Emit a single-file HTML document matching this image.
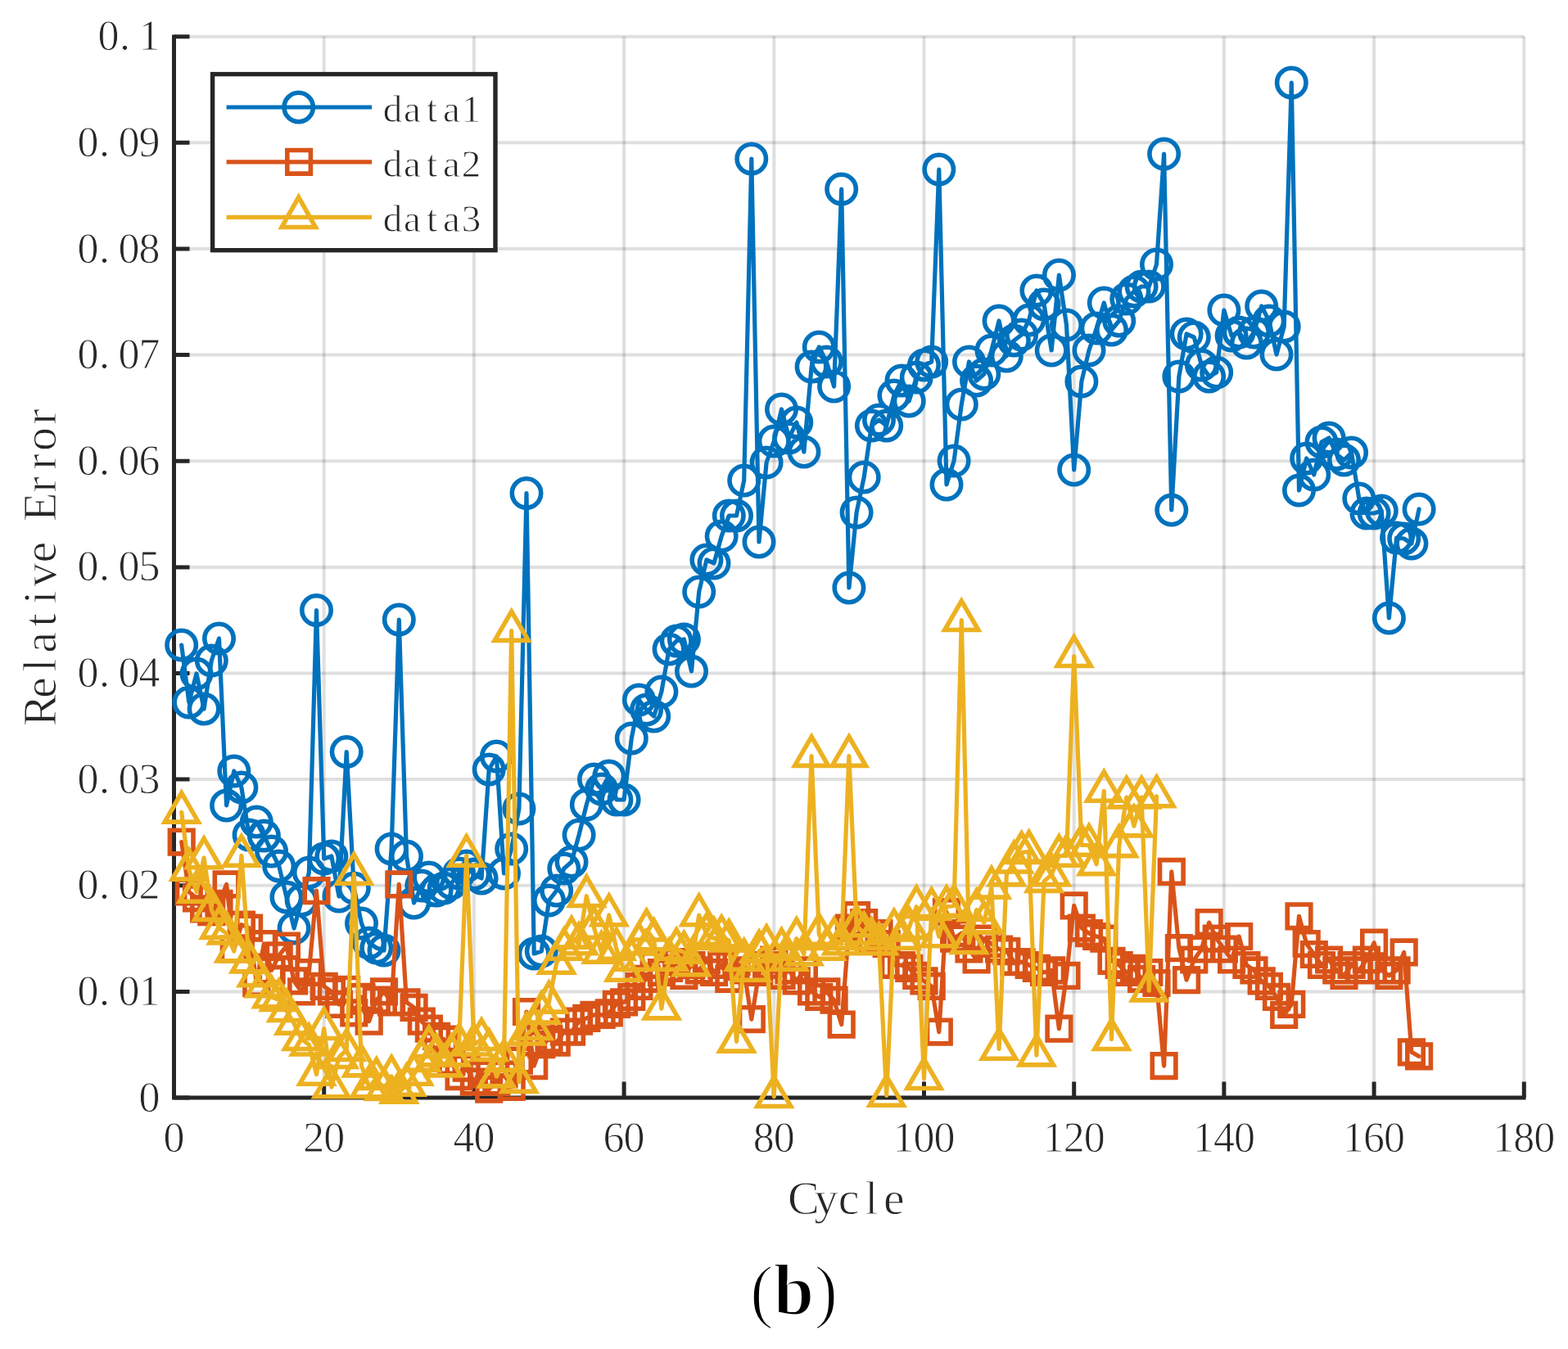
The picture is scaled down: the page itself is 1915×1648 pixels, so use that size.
<!DOCTYPE html><html><head><meta charset="utf-8"><title>Relative Error vs Cycle</title><style>
html,body{margin:0;padding:0;background:#fff;}body{width:1915px;height:1648px;overflow:hidden;}svg{display:block;filter:blur(0.55px);}
</style></head><body>
<svg width="1915" height="1648" viewBox="0 0 1915 1648">
<rect width="1915" height="1648" fill="#fff"/>
<path d="M395.7 44.6V1341M578.9 44.6V1341M762.1 44.6V1341M945.3 44.6V1341M1128.5 44.6V1341M1311.7 44.6V1341M1494.9 44.6V1341M1678.1 44.6V1341M1861.3 44.6V1341" stroke="#262626" stroke-opacity="0.15" stroke-width="4" fill="none"/>
<path d="M212.5 1211.4H1861.3M212.5 1081.7H1861.3M212.5 952.1H1861.3M212.5 822.5H1861.3M212.5 692.9H1861.3M212.5 563.2H1861.3M212.5 433.6H1861.3M212.5 304H1861.3M212.5 174.3H1861.3M212.5 44.7H1861.3" stroke="#262626" stroke-opacity="0.15" stroke-width="4" fill="none"/>
<path d="M212.5 42.4V1341H1863.5" stroke="#262626" stroke-width="5" fill="none" stroke-linejoin="miter" stroke-linecap="butt"/>
<path d="M212.5 1341H231.5M212.5 1211.4H231.5M212.5 1081.7H231.5M212.5 952.1H231.5M212.5 822.5H231.5M212.5 692.9H231.5M212.5 563.2H231.5M212.5 433.6H231.5M212.5 304H231.5M212.5 174.3H231.5M212.5 44.7H231.5M212.5 1341V1321.5M395.7 1341V1321.5M578.9 1341V1321.5M762.1 1341V1321.5M945.3 1341V1321.5M1128.5 1341V1321.5M1311.7 1341V1321.5M1494.9 1341V1321.5M1678.1 1341V1321.5M1861.3 1341V1321.5" stroke="#262626" stroke-width="5" fill="none"/>
<polyline points="221.7,788 230.8,858 240,823 249.1,866 258.3,807 267.5,780 276.6,984 285.8,942 294.9,962 304.1,1020 313.3,1004 322.4,1021 331.6,1040 340.7,1058 349.9,1096 359.1,1134 368.2,1100 377.4,1066 386.5,745.5 395.7,1049 404.9,1046 414,1095 423.2,918.5 432.3,1085 441.5,1128 450.7,1152 459.8,1158 469,1161 478.1,1037 487.3,757 496.5,1046 505.6,1103 514.8,1082 523.9,1072 533.1,1088 542.3,1085 551.4,1079 560.6,1067 569.7,1058 578.9,1068 588.1,1073 597.2,940 606.4,924 615.5,1067 624.7,1037 633.9,988 643,602.5 652.2,1165 661.3,1162 670.5,1100 679.7,1088 688.8,1061 698,1053 707.1,1020 716.3,983 725.5,952 734.6,964 743.8,948 752.9,977 762.1,977 771.3,902 780.4,855 789.6,867 798.7,875 807.9,845 817.1,793 826.2,783 835.4,781 844.5,820 853.7,723 862.9,684 872,688 881.2,655 890.3,630 899.5,630 908.7,587 917.8,194 927,662 936.1,565 945.3,539 954.5,500 963.6,535 972.8,516 981.9,552 991.1,448 1000.3,424 1009.4,442 1018.6,472 1027.7,231 1036.9,718 1046.1,626 1055.2,583 1064.4,520 1073.5,513 1082.7,520 1091.9,483 1101,465 1110.2,490 1119.3,461 1128.5,446 1137.7,442 1146.8,207 1156,592 1165.1,563 1174.3,494 1183.5,442 1192.6,465 1201.8,457 1210.9,428 1220.1,392 1229.3,435 1238.4,416 1247.6,409 1256.7,391 1265.9,355 1275.1,372 1284.2,428 1293.4,336 1302.5,397 1311.7,574 1320.9,466 1330,428 1339.2,401 1348.3,370 1357.5,403 1366.7,392 1375.8,365 1385,356 1394.1,350 1403.3,350 1412.5,323 1421.6,188 1430.8,623 1439.9,460 1449.1,408 1458.3,412 1467.4,446 1476.6,460 1485.7,455 1494.9,379 1504.1,410 1513.2,406 1522.4,419 1531.5,406 1540.7,374 1549.9,392 1559,433 1568.2,399 1577.3,101 1586.5,599 1595.7,560 1604.8,580 1614,540 1623.1,535 1632.3,555 1641.5,562 1650.6,553 1659.8,609 1668.9,627 1678.1,627 1687.3,624 1696.4,755 1705.6,657 1714.7,658 1723.9,664 1733.1,622" fill="none" stroke="#0072BD" stroke-width="5.2" stroke-linejoin="round" stroke-linecap="round"/>
<path d="M204 788a17.7 17.7 0 1 0 35.4 0a17.7 17.7 0 1 0 -35.4 0M213.1 858a17.7 17.7 0 1 0 35.4 0a17.7 17.7 0 1 0 -35.4 0M222.3 823a17.7 17.7 0 1 0 35.4 0a17.7 17.7 0 1 0 -35.4 0M231.4 866a17.7 17.7 0 1 0 35.4 0a17.7 17.7 0 1 0 -35.4 0M240.6 807a17.7 17.7 0 1 0 35.4 0a17.7 17.7 0 1 0 -35.4 0M249.8 780a17.7 17.7 0 1 0 35.4 0a17.7 17.7 0 1 0 -35.4 0M258.9 984a17.7 17.7 0 1 0 35.4 0a17.7 17.7 0 1 0 -35.4 0M268.1 942a17.7 17.7 0 1 0 35.4 0a17.7 17.7 0 1 0 -35.4 0M277.2 962a17.7 17.7 0 1 0 35.4 0a17.7 17.7 0 1 0 -35.4 0M286.4 1020a17.7 17.7 0 1 0 35.4 0a17.7 17.7 0 1 0 -35.4 0M295.6 1004a17.7 17.7 0 1 0 35.4 0a17.7 17.7 0 1 0 -35.4 0M304.7 1021a17.7 17.7 0 1 0 35.4 0a17.7 17.7 0 1 0 -35.4 0M313.9 1040a17.7 17.7 0 1 0 35.4 0a17.7 17.7 0 1 0 -35.4 0M323 1058a17.7 17.7 0 1 0 35.4 0a17.7 17.7 0 1 0 -35.4 0M332.2 1096a17.7 17.7 0 1 0 35.4 0a17.7 17.7 0 1 0 -35.4 0M341.4 1134a17.7 17.7 0 1 0 35.4 0a17.7 17.7 0 1 0 -35.4 0M350.5 1100a17.7 17.7 0 1 0 35.4 0a17.7 17.7 0 1 0 -35.4 0M359.7 1066a17.7 17.7 0 1 0 35.4 0a17.7 17.7 0 1 0 -35.4 0M368.8 745.5a17.7 17.7 0 1 0 35.4 0a17.7 17.7 0 1 0 -35.4 0M378 1049a17.7 17.7 0 1 0 35.4 0a17.7 17.7 0 1 0 -35.4 0M387.2 1046a17.7 17.7 0 1 0 35.4 0a17.7 17.7 0 1 0 -35.4 0M396.3 1095a17.7 17.7 0 1 0 35.4 0a17.7 17.7 0 1 0 -35.4 0M405.5 918.5a17.7 17.7 0 1 0 35.4 0a17.7 17.7 0 1 0 -35.4 0M414.6 1085a17.7 17.7 0 1 0 35.4 0a17.7 17.7 0 1 0 -35.4 0M423.8 1128a17.7 17.7 0 1 0 35.4 0a17.7 17.7 0 1 0 -35.4 0M433 1152a17.7 17.7 0 1 0 35.4 0a17.7 17.7 0 1 0 -35.4 0M442.1 1158a17.7 17.7 0 1 0 35.4 0a17.7 17.7 0 1 0 -35.4 0M451.3 1161a17.7 17.7 0 1 0 35.4 0a17.7 17.7 0 1 0 -35.4 0M460.4 1037a17.7 17.7 0 1 0 35.4 0a17.7 17.7 0 1 0 -35.4 0M469.6 757a17.7 17.7 0 1 0 35.4 0a17.7 17.7 0 1 0 -35.4 0M478.8 1046a17.7 17.7 0 1 0 35.4 0a17.7 17.7 0 1 0 -35.4 0M487.9 1103a17.7 17.7 0 1 0 35.4 0a17.7 17.7 0 1 0 -35.4 0M497.1 1082a17.7 17.7 0 1 0 35.4 0a17.7 17.7 0 1 0 -35.4 0M506.2 1072a17.7 17.7 0 1 0 35.4 0a17.7 17.7 0 1 0 -35.4 0M515.4 1088a17.7 17.7 0 1 0 35.4 0a17.7 17.7 0 1 0 -35.4 0M524.6 1085a17.7 17.7 0 1 0 35.4 0a17.7 17.7 0 1 0 -35.4 0M533.7 1079a17.7 17.7 0 1 0 35.4 0a17.7 17.7 0 1 0 -35.4 0M542.9 1067a17.7 17.7 0 1 0 35.4 0a17.7 17.7 0 1 0 -35.4 0M552 1058a17.7 17.7 0 1 0 35.4 0a17.7 17.7 0 1 0 -35.4 0M561.2 1068a17.7 17.7 0 1 0 35.4 0a17.7 17.7 0 1 0 -35.4 0M570.4 1073a17.7 17.7 0 1 0 35.4 0a17.7 17.7 0 1 0 -35.4 0M579.5 940a17.7 17.7 0 1 0 35.4 0a17.7 17.7 0 1 0 -35.4 0M588.7 924a17.7 17.7 0 1 0 35.4 0a17.7 17.7 0 1 0 -35.4 0M597.8 1067a17.7 17.7 0 1 0 35.4 0a17.7 17.7 0 1 0 -35.4 0M607 1037a17.7 17.7 0 1 0 35.4 0a17.7 17.7 0 1 0 -35.4 0M616.2 988a17.7 17.7 0 1 0 35.4 0a17.7 17.7 0 1 0 -35.4 0M625.3 602.5a17.7 17.7 0 1 0 35.4 0a17.7 17.7 0 1 0 -35.4 0M634.5 1165a17.7 17.7 0 1 0 35.4 0a17.7 17.7 0 1 0 -35.4 0M643.6 1162a17.7 17.7 0 1 0 35.4 0a17.7 17.7 0 1 0 -35.4 0M652.8 1100a17.7 17.7 0 1 0 35.4 0a17.7 17.7 0 1 0 -35.4 0M662 1088a17.7 17.7 0 1 0 35.4 0a17.7 17.7 0 1 0 -35.4 0M671.1 1061a17.7 17.7 0 1 0 35.4 0a17.7 17.7 0 1 0 -35.4 0M680.3 1053a17.7 17.7 0 1 0 35.4 0a17.7 17.7 0 1 0 -35.4 0M689.4 1020a17.7 17.7 0 1 0 35.4 0a17.7 17.7 0 1 0 -35.4 0M698.6 983a17.7 17.7 0 1 0 35.4 0a17.7 17.7 0 1 0 -35.4 0M707.8 952a17.7 17.7 0 1 0 35.4 0a17.7 17.7 0 1 0 -35.4 0M716.9 964a17.7 17.7 0 1 0 35.4 0a17.7 17.7 0 1 0 -35.4 0M726.1 948a17.7 17.7 0 1 0 35.4 0a17.7 17.7 0 1 0 -35.4 0M735.2 977a17.7 17.7 0 1 0 35.4 0a17.7 17.7 0 1 0 -35.4 0M744.4 977a17.7 17.7 0 1 0 35.4 0a17.7 17.7 0 1 0 -35.4 0M753.6 902a17.7 17.7 0 1 0 35.4 0a17.7 17.7 0 1 0 -35.4 0M762.7 855a17.7 17.7 0 1 0 35.4 0a17.7 17.7 0 1 0 -35.4 0M771.9 867a17.7 17.7 0 1 0 35.4 0a17.7 17.7 0 1 0 -35.4 0M781 875a17.7 17.7 0 1 0 35.4 0a17.7 17.7 0 1 0 -35.4 0M790.2 845a17.7 17.7 0 1 0 35.4 0a17.7 17.7 0 1 0 -35.4 0M799.4 793a17.7 17.7 0 1 0 35.4 0a17.7 17.7 0 1 0 -35.4 0M808.5 783a17.7 17.7 0 1 0 35.4 0a17.7 17.7 0 1 0 -35.4 0M817.7 781a17.7 17.7 0 1 0 35.4 0a17.7 17.7 0 1 0 -35.4 0M826.8 820a17.7 17.7 0 1 0 35.4 0a17.7 17.7 0 1 0 -35.4 0M836 723a17.7 17.7 0 1 0 35.4 0a17.7 17.7 0 1 0 -35.4 0M845.2 684a17.7 17.7 0 1 0 35.4 0a17.7 17.7 0 1 0 -35.4 0M854.3 688a17.7 17.7 0 1 0 35.4 0a17.7 17.7 0 1 0 -35.4 0M863.5 655a17.7 17.7 0 1 0 35.4 0a17.7 17.7 0 1 0 -35.4 0M872.6 630a17.7 17.7 0 1 0 35.4 0a17.7 17.7 0 1 0 -35.4 0M881.8 630a17.7 17.7 0 1 0 35.4 0a17.7 17.7 0 1 0 -35.4 0M891 587a17.7 17.7 0 1 0 35.4 0a17.7 17.7 0 1 0 -35.4 0M900.1 194a17.7 17.7 0 1 0 35.4 0a17.7 17.7 0 1 0 -35.4 0M909.3 662a17.7 17.7 0 1 0 35.4 0a17.7 17.7 0 1 0 -35.4 0M918.4 565a17.7 17.7 0 1 0 35.4 0a17.7 17.7 0 1 0 -35.4 0M927.6 539a17.7 17.7 0 1 0 35.4 0a17.7 17.7 0 1 0 -35.4 0M936.8 500a17.7 17.7 0 1 0 35.4 0a17.7 17.7 0 1 0 -35.4 0M945.9 535a17.7 17.7 0 1 0 35.4 0a17.7 17.7 0 1 0 -35.4 0M955.1 516a17.7 17.7 0 1 0 35.4 0a17.7 17.7 0 1 0 -35.4 0M964.2 552a17.7 17.7 0 1 0 35.4 0a17.7 17.7 0 1 0 -35.4 0M973.4 448a17.7 17.7 0 1 0 35.4 0a17.7 17.7 0 1 0 -35.4 0M982.6 424a17.7 17.7 0 1 0 35.4 0a17.7 17.7 0 1 0 -35.4 0M991.7 442a17.7 17.7 0 1 0 35.4 0a17.7 17.7 0 1 0 -35.4 0M1000.9 472a17.7 17.7 0 1 0 35.4 0a17.7 17.7 0 1 0 -35.4 0M1010 231a17.7 17.7 0 1 0 35.4 0a17.7 17.7 0 1 0 -35.4 0M1019.2 718a17.7 17.7 0 1 0 35.4 0a17.7 17.7 0 1 0 -35.4 0M1028.4 626a17.7 17.7 0 1 0 35.4 0a17.7 17.7 0 1 0 -35.4 0M1037.5 583a17.7 17.7 0 1 0 35.4 0a17.7 17.7 0 1 0 -35.4 0M1046.7 520a17.7 17.7 0 1 0 35.4 0a17.7 17.7 0 1 0 -35.4 0M1055.8 513a17.7 17.7 0 1 0 35.4 0a17.7 17.7 0 1 0 -35.4 0M1065 520a17.7 17.7 0 1 0 35.4 0a17.7 17.7 0 1 0 -35.4 0M1074.2 483a17.7 17.7 0 1 0 35.4 0a17.7 17.7 0 1 0 -35.4 0M1083.3 465a17.7 17.7 0 1 0 35.4 0a17.7 17.7 0 1 0 -35.4 0M1092.5 490a17.7 17.7 0 1 0 35.4 0a17.7 17.7 0 1 0 -35.4 0M1101.6 461a17.7 17.7 0 1 0 35.4 0a17.7 17.7 0 1 0 -35.4 0M1110.8 446a17.7 17.7 0 1 0 35.4 0a17.7 17.7 0 1 0 -35.4 0M1120 442a17.7 17.7 0 1 0 35.4 0a17.7 17.7 0 1 0 -35.4 0M1129.1 207a17.7 17.7 0 1 0 35.4 0a17.7 17.7 0 1 0 -35.4 0M1138.3 592a17.7 17.7 0 1 0 35.4 0a17.7 17.7 0 1 0 -35.4 0M1147.4 563a17.7 17.7 0 1 0 35.4 0a17.7 17.7 0 1 0 -35.4 0M1156.6 494a17.7 17.7 0 1 0 35.4 0a17.7 17.7 0 1 0 -35.4 0M1165.8 442a17.7 17.7 0 1 0 35.4 0a17.7 17.7 0 1 0 -35.4 0M1174.9 465a17.7 17.7 0 1 0 35.4 0a17.7 17.7 0 1 0 -35.4 0M1184.1 457a17.7 17.7 0 1 0 35.4 0a17.7 17.7 0 1 0 -35.4 0M1193.2 428a17.7 17.7 0 1 0 35.4 0a17.7 17.7 0 1 0 -35.4 0M1202.4 392a17.7 17.7 0 1 0 35.4 0a17.7 17.7 0 1 0 -35.4 0M1211.6 435a17.7 17.7 0 1 0 35.4 0a17.7 17.7 0 1 0 -35.4 0M1220.7 416a17.7 17.7 0 1 0 35.4 0a17.7 17.7 0 1 0 -35.4 0M1229.9 409a17.7 17.7 0 1 0 35.4 0a17.7 17.7 0 1 0 -35.4 0M1239 391a17.7 17.7 0 1 0 35.4 0a17.7 17.7 0 1 0 -35.4 0M1248.2 355a17.7 17.7 0 1 0 35.4 0a17.7 17.7 0 1 0 -35.4 0M1257.4 372a17.7 17.7 0 1 0 35.4 0a17.7 17.7 0 1 0 -35.4 0M1266.5 428a17.7 17.7 0 1 0 35.4 0a17.7 17.7 0 1 0 -35.4 0M1275.7 336a17.7 17.7 0 1 0 35.4 0a17.7 17.7 0 1 0 -35.4 0M1284.8 397a17.7 17.7 0 1 0 35.4 0a17.7 17.7 0 1 0 -35.4 0M1294 574a17.7 17.7 0 1 0 35.4 0a17.7 17.7 0 1 0 -35.4 0M1303.2 466a17.7 17.7 0 1 0 35.4 0a17.7 17.7 0 1 0 -35.4 0M1312.3 428a17.7 17.7 0 1 0 35.4 0a17.7 17.7 0 1 0 -35.4 0M1321.5 401a17.7 17.7 0 1 0 35.4 0a17.7 17.7 0 1 0 -35.4 0M1330.6 370a17.7 17.7 0 1 0 35.4 0a17.7 17.7 0 1 0 -35.4 0M1339.8 403a17.7 17.7 0 1 0 35.4 0a17.7 17.7 0 1 0 -35.4 0M1349 392a17.7 17.7 0 1 0 35.4 0a17.7 17.7 0 1 0 -35.4 0M1358.1 365a17.7 17.7 0 1 0 35.4 0a17.7 17.7 0 1 0 -35.4 0M1367.3 356a17.7 17.7 0 1 0 35.4 0a17.7 17.7 0 1 0 -35.4 0M1376.4 350a17.7 17.7 0 1 0 35.4 0a17.7 17.7 0 1 0 -35.4 0M1385.6 350a17.7 17.7 0 1 0 35.4 0a17.7 17.7 0 1 0 -35.4 0M1394.8 323a17.7 17.7 0 1 0 35.4 0a17.7 17.7 0 1 0 -35.4 0M1403.9 188a17.7 17.7 0 1 0 35.4 0a17.7 17.7 0 1 0 -35.4 0M1413.1 623a17.7 17.7 0 1 0 35.4 0a17.7 17.7 0 1 0 -35.4 0M1422.2 460a17.7 17.7 0 1 0 35.4 0a17.7 17.7 0 1 0 -35.4 0M1431.4 408a17.7 17.7 0 1 0 35.4 0a17.7 17.7 0 1 0 -35.4 0M1440.6 412a17.7 17.7 0 1 0 35.4 0a17.7 17.7 0 1 0 -35.4 0M1449.7 446a17.7 17.7 0 1 0 35.4 0a17.7 17.7 0 1 0 -35.4 0M1458.9 460a17.7 17.7 0 1 0 35.4 0a17.7 17.7 0 1 0 -35.4 0M1468 455a17.7 17.7 0 1 0 35.4 0a17.7 17.7 0 1 0 -35.4 0M1477.2 379a17.7 17.7 0 1 0 35.4 0a17.7 17.7 0 1 0 -35.4 0M1486.4 410a17.7 17.7 0 1 0 35.4 0a17.7 17.7 0 1 0 -35.4 0M1495.5 406a17.7 17.7 0 1 0 35.4 0a17.7 17.7 0 1 0 -35.4 0M1504.7 419a17.7 17.7 0 1 0 35.4 0a17.7 17.7 0 1 0 -35.4 0M1513.8 406a17.7 17.7 0 1 0 35.4 0a17.7 17.7 0 1 0 -35.4 0M1523 374a17.7 17.7 0 1 0 35.4 0a17.7 17.7 0 1 0 -35.4 0M1532.2 392a17.7 17.7 0 1 0 35.4 0a17.7 17.7 0 1 0 -35.4 0M1541.3 433a17.7 17.7 0 1 0 35.4 0a17.7 17.7 0 1 0 -35.4 0M1550.5 399a17.7 17.7 0 1 0 35.4 0a17.7 17.7 0 1 0 -35.4 0M1559.6 101a17.7 17.7 0 1 0 35.4 0a17.7 17.7 0 1 0 -35.4 0M1568.8 599a17.7 17.7 0 1 0 35.4 0a17.7 17.7 0 1 0 -35.4 0M1578 560a17.7 17.7 0 1 0 35.4 0a17.7 17.7 0 1 0 -35.4 0M1587.1 580a17.7 17.7 0 1 0 35.4 0a17.7 17.7 0 1 0 -35.4 0M1596.3 540a17.7 17.7 0 1 0 35.4 0a17.7 17.7 0 1 0 -35.4 0M1605.4 535a17.7 17.7 0 1 0 35.4 0a17.7 17.7 0 1 0 -35.4 0M1614.6 555a17.7 17.7 0 1 0 35.4 0a17.7 17.7 0 1 0 -35.4 0M1623.8 562a17.7 17.7 0 1 0 35.4 0a17.7 17.7 0 1 0 -35.4 0M1632.9 553a17.7 17.7 0 1 0 35.4 0a17.7 17.7 0 1 0 -35.4 0M1642.1 609a17.7 17.7 0 1 0 35.4 0a17.7 17.7 0 1 0 -35.4 0M1651.2 627a17.7 17.7 0 1 0 35.4 0a17.7 17.7 0 1 0 -35.4 0M1660.4 627a17.7 17.7 0 1 0 35.4 0a17.7 17.7 0 1 0 -35.4 0M1669.6 624a17.7 17.7 0 1 0 35.4 0a17.7 17.7 0 1 0 -35.4 0M1678.7 755a17.7 17.7 0 1 0 35.4 0a17.7 17.7 0 1 0 -35.4 0M1687.9 657a17.7 17.7 0 1 0 35.4 0a17.7 17.7 0 1 0 -35.4 0M1697 658a17.7 17.7 0 1 0 35.4 0a17.7 17.7 0 1 0 -35.4 0M1706.2 664a17.7 17.7 0 1 0 35.4 0a17.7 17.7 0 1 0 -35.4 0M1715.4 622a17.7 17.7 0 1 0 35.4 0a17.7 17.7 0 1 0 -35.4 0" fill="none" stroke="#0072BD" stroke-width="5.6"/>
<polyline points="221.7,1028.6 230.8,1089.5 240,1097.3 249.1,1110.3 258.3,1114.1 267.5,1103.8 276.6,1080.4 285.8,1159.5 294.9,1129.7 304.1,1133.6 313.3,1201 322.4,1153 331.6,1185.4 340.7,1167.3 349.9,1155.6 359.1,1198.4 368.2,1211.4 377.4,1188 386.5,1088.2 395.7,1204.9 404.9,1211.4 414,1226.9 423.2,1208.8 432.3,1237.3 441.5,1217.9 450.7,1247.7 459.8,1221.7 469,1211.4 478.1,1224.3 487.3,1080.4 496.5,1224.3 505.6,1230.8 514.8,1247.7 523.9,1256.7 533.1,1265.8 542.3,1269.7 551.4,1296.9 560.6,1315.1 569.7,1304.7 578.9,1321.6 588.1,1312.5 597.2,1330.6 606.4,1321.6 615.5,1312.5 624.7,1328 633.9,1295.6 643,1236 652.2,1302.1 661.3,1276.2 670.5,1269.7 679.7,1273.6 688.8,1260.6 698,1260.6 707.1,1247.7 716.3,1243.8 725.5,1239.9 734.6,1239.9 743.8,1237.3 752.9,1226.9 762.1,1224.3 771.3,1217.9 780.4,1204.9 789.6,1195.8 798.7,1179 807.9,1188 817.1,1182.9 826.2,1175.1 835.4,1191.9 844.5,1179 853.7,1185.4 862.9,1172.5 872,1188 881.2,1179 890.3,1195.8 899.5,1175.1 908.7,1185.4 917.8,1245.1 927,1188 936.1,1179 945.3,1172.5 954.5,1191.9 963.6,1185.4 972.8,1198.4 981.9,1185.4 991.1,1211.4 1000.3,1217.9 1009.4,1211.4 1018.6,1221.7 1027.7,1251.6 1036.9,1133.6 1046.1,1118 1055.2,1127.1 1064.4,1146.6 1073.5,1140.1 1082.7,1153 1091.9,1179 1101,1179 1110.2,1182.9 1119.3,1191.9 1128.5,1198.4 1137.7,1204.9 1146.8,1260.6 1156,1114.1 1165.1,1146.6 1174.3,1140.1 1183.5,1159.5 1192.6,1172.5 1201.8,1146.6 1210.9,1153 1220.1,1159.5 1229.3,1162.1 1238.4,1175.1 1247.6,1175.1 1256.7,1179 1265.9,1182.9 1275.1,1188 1284.2,1185.4 1293.4,1256.7 1302.5,1191.9 1311.7,1106.4 1320.9,1133.6 1330,1140.1 1339.2,1144 1348.3,1146.6 1357.5,1173.8 1366.7,1179 1375.8,1188 1385,1182.9 1394.1,1195.8 1403.3,1188 1412.5,1201 1421.6,1302.1 1430.8,1064.9 1439.9,1158.2 1449.1,1197.1 1458.3,1172.5 1467.4,1159.5 1476.6,1127.1 1485.7,1146.6 1494.9,1159.5 1504.1,1172.5 1513.2,1144 1522.4,1179 1531.5,1185.4 1540.7,1198.4 1549.9,1204.9 1559,1217.9 1568.2,1239.9 1577.3,1226.9 1586.5,1119.3 1595.7,1153 1604.8,1166 1614,1179 1623.1,1172.5 1632.3,1185.4 1641.5,1191.9 1650.6,1179 1659.8,1185.4 1668.9,1172.5 1678.1,1151.7 1687.3,1185.4 1696.4,1191.9 1705.6,1185.4 1714.7,1163.4 1723.9,1285.3 1733.1,1290.4" fill="none" stroke="#D95319" stroke-width="5.2" stroke-linejoin="round" stroke-linecap="round"/>
<path d="M207.4 1014.3h28.6v28.6h-28.6zM216.5 1075.2h28.6v28.6h-28.6zM225.7 1083h28.6v28.6h-28.6zM234.8 1096h28.6v28.6h-28.6zM244 1099.8h28.6v28.6h-28.6zM253.2 1089.5h28.6v28.6h-28.6zM262.3 1066.1h28.6v28.6h-28.6zM271.5 1145.2h28.6v28.6h-28.6zM280.6 1115.4h28.6v28.6h-28.6zM289.8 1119.3h28.6v28.6h-28.6zM299 1186.7h28.6v28.6h-28.6zM308.1 1138.7h28.6v28.6h-28.6zM317.3 1171.1h28.6v28.6h-28.6zM326.4 1153h28.6v28.6h-28.6zM335.6 1141.3h28.6v28.6h-28.6zM344.8 1184.1h28.6v28.6h-28.6zM353.9 1197.1h28.6v28.6h-28.6zM363.1 1173.7h28.6v28.6h-28.6zM372.2 1073.9h28.6v28.6h-28.6zM381.4 1190.6h28.6v28.6h-28.6zM390.6 1197.1h28.6v28.6h-28.6zM399.7 1212.6h28.6v28.6h-28.6zM408.9 1194.5h28.6v28.6h-28.6zM418 1223h28.6v28.6h-28.6zM427.2 1203.6h28.6v28.6h-28.6zM436.4 1233.4h28.6v28.6h-28.6zM445.5 1207.4h28.6v28.6h-28.6zM454.7 1197.1h28.6v28.6h-28.6zM463.8 1210h28.6v28.6h-28.6zM473 1066.1h28.6v28.6h-28.6zM482.2 1210h28.6v28.6h-28.6zM491.3 1216.5h28.6v28.6h-28.6zM500.5 1233.4h28.6v28.6h-28.6zM509.6 1242.4h28.6v28.6h-28.6zM518.8 1251.5h28.6v28.6h-28.6zM528 1255.4h28.6v28.6h-28.6zM537.1 1282.6h28.6v28.6h-28.6zM546.3 1300.8h28.6v28.6h-28.6zM555.4 1290.4h28.6v28.6h-28.6zM564.6 1307.3h28.6v28.6h-28.6zM573.8 1298.2h28.6v28.6h-28.6zM582.9 1316.3h28.6v28.6h-28.6zM592.1 1307.3h28.6v28.6h-28.6zM601.2 1298.2h28.6v28.6h-28.6zM610.4 1313.7h28.6v28.6h-28.6zM619.6 1281.3h28.6v28.6h-28.6zM628.7 1221.7h28.6v28.6h-28.6zM637.9 1287.8h28.6v28.6h-28.6zM647 1261.9h28.6v28.6h-28.6zM656.2 1255.4h28.6v28.6h-28.6zM665.4 1259.3h28.6v28.6h-28.6zM674.5 1246.3h28.6v28.6h-28.6zM683.7 1246.3h28.6v28.6h-28.6zM692.8 1233.4h28.6v28.6h-28.6zM702 1229.5h28.6v28.6h-28.6zM711.2 1225.6h28.6v28.6h-28.6zM720.3 1225.6h28.6v28.6h-28.6zM729.5 1223h28.6v28.6h-28.6zM738.6 1212.6h28.6v28.6h-28.6zM747.8 1210h28.6v28.6h-28.6zM757 1203.6h28.6v28.6h-28.6zM766.1 1190.6h28.6v28.6h-28.6zM775.3 1181.5h28.6v28.6h-28.6zM784.4 1164.7h28.6v28.6h-28.6zM793.6 1173.7h28.6v28.6h-28.6zM802.8 1168.6h28.6v28.6h-28.6zM811.9 1160.8h28.6v28.6h-28.6zM821.1 1177.6h28.6v28.6h-28.6zM830.2 1164.7h28.6v28.6h-28.6zM839.4 1171.1h28.6v28.6h-28.6zM848.6 1158.2h28.6v28.6h-28.6zM857.7 1173.7h28.6v28.6h-28.6zM866.9 1164.7h28.6v28.6h-28.6zM876 1181.5h28.6v28.6h-28.6zM885.2 1160.8h28.6v28.6h-28.6zM894.4 1171.1h28.6v28.6h-28.6zM903.5 1230.8h28.6v28.6h-28.6zM912.7 1173.7h28.6v28.6h-28.6zM921.8 1164.7h28.6v28.6h-28.6zM931 1158.2h28.6v28.6h-28.6zM940.2 1177.6h28.6v28.6h-28.6zM949.3 1171.1h28.6v28.6h-28.6zM958.5 1184.1h28.6v28.6h-28.6zM967.6 1171.1h28.6v28.6h-28.6zM976.8 1197.1h28.6v28.6h-28.6zM986 1203.6h28.6v28.6h-28.6zM995.1 1197.1h28.6v28.6h-28.6zM1004.3 1207.4h28.6v28.6h-28.6zM1013.4 1237.3h28.6v28.6h-28.6zM1022.6 1119.3h28.6v28.6h-28.6zM1031.8 1103.7h28.6v28.6h-28.6zM1040.9 1112.8h28.6v28.6h-28.6zM1050.1 1132.3h28.6v28.6h-28.6zM1059.2 1125.8h28.6v28.6h-28.6zM1068.4 1138.7h28.6v28.6h-28.6zM1077.6 1164.7h28.6v28.6h-28.6zM1086.7 1164.7h28.6v28.6h-28.6zM1095.9 1168.6h28.6v28.6h-28.6zM1105 1177.6h28.6v28.6h-28.6zM1114.2 1184.1h28.6v28.6h-28.6zM1123.4 1190.6h28.6v28.6h-28.6zM1132.5 1246.3h28.6v28.6h-28.6zM1141.7 1099.8h28.6v28.6h-28.6zM1150.8 1132.3h28.6v28.6h-28.6zM1160 1125.8h28.6v28.6h-28.6zM1169.2 1145.2h28.6v28.6h-28.6zM1178.3 1158.2h28.6v28.6h-28.6zM1187.5 1132.3h28.6v28.6h-28.6zM1196.6 1138.7h28.6v28.6h-28.6zM1205.8 1145.2h28.6v28.6h-28.6zM1215 1147.8h28.6v28.6h-28.6zM1224.1 1160.8h28.6v28.6h-28.6zM1233.3 1160.8h28.6v28.6h-28.6zM1242.4 1164.7h28.6v28.6h-28.6zM1251.6 1168.6h28.6v28.6h-28.6zM1260.8 1173.7h28.6v28.6h-28.6zM1269.9 1171.1h28.6v28.6h-28.6zM1279.1 1242.4h28.6v28.6h-28.6zM1288.2 1177.6h28.6v28.6h-28.6zM1297.4 1092.1h28.6v28.6h-28.6zM1306.6 1119.3h28.6v28.6h-28.6zM1315.7 1125.8h28.6v28.6h-28.6zM1324.9 1129.7h28.6v28.6h-28.6zM1334 1132.3h28.6v28.6h-28.6zM1343.2 1159.5h28.6v28.6h-28.6zM1352.4 1164.7h28.6v28.6h-28.6zM1361.5 1173.7h28.6v28.6h-28.6zM1370.7 1168.6h28.6v28.6h-28.6zM1379.8 1181.5h28.6v28.6h-28.6zM1389 1173.7h28.6v28.6h-28.6zM1398.2 1186.7h28.6v28.6h-28.6zM1407.3 1287.8h28.6v28.6h-28.6zM1416.5 1050.6h28.6v28.6h-28.6zM1425.6 1143.9h28.6v28.6h-28.6zM1434.8 1182.8h28.6v28.6h-28.6zM1444 1158.2h28.6v28.6h-28.6zM1453.1 1145.2h28.6v28.6h-28.6zM1462.3 1112.8h28.6v28.6h-28.6zM1471.4 1132.3h28.6v28.6h-28.6zM1480.6 1145.2h28.6v28.6h-28.6zM1489.8 1158.2h28.6v28.6h-28.6zM1498.9 1129.7h28.6v28.6h-28.6zM1508.1 1164.7h28.6v28.6h-28.6zM1517.2 1171.1h28.6v28.6h-28.6zM1526.4 1184.1h28.6v28.6h-28.6zM1535.6 1190.6h28.6v28.6h-28.6zM1544.7 1203.6h28.6v28.6h-28.6zM1553.9 1225.6h28.6v28.6h-28.6zM1563 1212.6h28.6v28.6h-28.6zM1572.2 1105h28.6v28.6h-28.6zM1581.4 1138.7h28.6v28.6h-28.6zM1590.5 1151.7h28.6v28.6h-28.6zM1599.7 1164.7h28.6v28.6h-28.6zM1608.8 1158.2h28.6v28.6h-28.6zM1618 1171.1h28.6v28.6h-28.6zM1627.2 1177.6h28.6v28.6h-28.6zM1636.3 1164.7h28.6v28.6h-28.6zM1645.5 1171.1h28.6v28.6h-28.6zM1654.6 1158.2h28.6v28.6h-28.6zM1663.8 1137.4h28.6v28.6h-28.6zM1673 1171.1h28.6v28.6h-28.6zM1682.1 1177.6h28.6v28.6h-28.6zM1691.3 1171.1h28.6v28.6h-28.6zM1700.4 1149.1h28.6v28.6h-28.6zM1709.6 1271h28.6v28.6h-28.6zM1718.8 1276.1h28.6v28.6h-28.6z" fill="none" stroke="#D95319" stroke-width="5.6" stroke-linejoin="miter"/>
<polyline points="221.7,992.3 230.8,1062.3 240,1089.5 249.1,1048 258.3,1111.6 267.5,1133.6 276.6,1140.1 285.8,1162.1 294.9,1045.4 304.1,1175.1 313.3,1191.9 322.4,1204.9 331.6,1217.9 340.7,1221.7 349.9,1234.7 359.1,1250.3 368.2,1269.7 377.4,1276.2 386.5,1312.5 395.7,1256.7 404.9,1328 414,1291.7 423.2,1282.7 432.3,1067.5 441.5,1302.1 450.7,1328 459.8,1317.7 469,1330.6 478.1,1315.1 487.3,1334.5 496.5,1325.4 505.6,1312.5 514.8,1295.6 523.9,1278.8 533.1,1289.1 542.3,1302.1 551.4,1289.1 560.6,1276.2 569.7,1045.4 578.9,1276.2 588.1,1269.7 597.2,1282.7 606.4,1315.1 615.5,1295.6 624.7,770.6 633.9,1321.6 643,1263.2 652.2,1256.7 661.3,1237.3 670.5,1224.3 679.7,1176.4 688.8,1159.5 698,1145.3 707.1,1153 716.3,1094.7 725.5,1133.6 734.6,1163.4 743.8,1118 752.9,1159.5 762.1,1185.4 771.3,1172.5 780.4,1153 789.6,1136.2 798.7,1147.9 807.9,1232.1 817.1,1172.5 826.2,1159.5 835.4,1163.4 844.5,1179 853.7,1118 862.9,1141.4 872,1146.6 881.2,1144 890.3,1149.1 899.5,1272.3 908.7,1172.5 917.8,1185.4 927,1162.1 936.1,1155.6 945.3,1339.7 954.5,1159.5 963.6,1172.5 972.8,1146.6 981.9,1166 991.1,923.6 1000.3,1141.4 1009.4,1159.5 1018.6,1146.6 1027.7,1153 1036.9,923.6 1046.1,1131 1055.2,1140.1 1064.4,1146.6 1073.5,1153 1082.7,1338.4 1091.9,1136.2 1101,1146.6 1110.2,1133.6 1119.3,1107.7 1128.5,1317.7 1137.7,1110.3 1146.8,1144 1156,1107.7 1165.1,1106.4 1174.3,757.7 1183.5,1151.7 1192.6,1111.6 1201.8,1127.1 1210.9,1084.3 1220.1,1281.4 1229.3,1068.8 1238.4,1053.2 1247.6,1041.6 1256.7,1040.3 1265.9,1289.1 1275.1,1076.6 1284.2,1068.8 1293.4,1045.4 1302.5,1045.4 1311.7,801.7 1320.9,1032.5 1330,1032.5 1339.2,1055.8 1348.3,966.4 1357.5,1269.7 1366.7,1033.8 1375.8,974.1 1385,1009.1 1394.1,974.1 1403.3,1210.1 1412.5,972.9" fill="none" stroke="#EDB120" stroke-width="5.2" stroke-linejoin="round" stroke-linecap="round"/>
<path d="M221.7 968.7L242.2 1004.1L201.2 1004.1zM230.8 1038.7L251.3 1074.1L210.3 1074.1zM240 1065.9L260.5 1101.3L219.5 1101.3zM249.1 1024.4L269.6 1059.8L228.6 1059.8zM258.3 1088L278.8 1123.4L237.8 1123.4zM267.5 1110L288 1145.4L247 1145.4zM276.6 1116.5L297.1 1151.9L256.1 1151.9zM285.8 1138.5L306.3 1173.9L265.3 1173.9zM294.9 1021.8L315.4 1057.2L274.4 1057.2zM304.1 1151.5L324.6 1186.9L283.6 1186.9zM313.3 1168.3L333.8 1203.7L292.8 1203.7zM322.4 1181.3L342.9 1216.7L301.9 1216.7zM331.6 1194.3L352.1 1229.7L311.1 1229.7zM340.7 1198.1L361.2 1233.5L320.2 1233.5zM349.9 1211.1L370.4 1246.5L329.4 1246.5zM359.1 1226.7L379.6 1262.1L338.6 1262.1zM368.2 1246.1L388.7 1281.5L347.7 1281.5zM377.4 1252.6L397.9 1288L356.9 1288zM386.5 1288.9L407 1324.3L366 1324.3zM395.7 1233.1L416.2 1268.5L375.2 1268.5zM404.9 1304.4L425.4 1339.8L384.4 1339.8zM414 1268.1L434.5 1303.5L393.5 1303.5zM423.2 1259.1L443.7 1294.5L402.7 1294.5zM432.3 1043.9L452.8 1079.3L411.8 1079.3zM441.5 1278.5L462 1313.9L421 1313.9zM450.7 1304.4L471.2 1339.8L430.2 1339.8zM459.8 1294.1L480.3 1329.5L439.3 1329.5zM469 1307L489.5 1342.4L448.5 1342.4zM478.1 1291.5L498.6 1326.9L457.6 1326.9zM487.3 1310.9L507.8 1346.3L466.8 1346.3zM496.5 1301.8L517 1337.2L476 1337.2zM505.6 1288.9L526.1 1324.3L485.1 1324.3zM514.8 1272L535.3 1307.4L494.3 1307.4zM523.9 1255.2L544.4 1290.6L503.4 1290.6zM533.1 1265.5L553.6 1300.9L512.6 1300.9zM542.3 1278.5L562.8 1313.9L521.8 1313.9zM551.4 1265.5L571.9 1300.9L530.9 1300.9zM560.6 1252.6L581.1 1288L540.1 1288zM569.7 1021.8L590.2 1057.2L549.2 1057.2zM578.9 1252.6L599.4 1288L558.4 1288zM588.1 1246.1L608.6 1281.5L567.6 1281.5zM597.2 1259.1L617.7 1294.5L576.7 1294.5zM606.4 1291.5L626.9 1326.9L585.9 1326.9zM615.5 1272L636 1307.4L595 1307.4zM624.7 747L645.2 782.4L604.2 782.4zM633.9 1298L654.4 1333.4L613.4 1333.4zM643 1239.6L663.5 1275L622.5 1275zM652.2 1233.1L672.7 1268.5L631.7 1268.5zM661.3 1213.7L681.8 1249.1L640.8 1249.1zM670.5 1200.7L691 1236.1L650 1236.1zM679.7 1152.8L700.2 1188.2L659.2 1188.2zM688.8 1135.9L709.3 1171.3L668.3 1171.3zM698 1121.7L718.5 1157.1L677.5 1157.1zM707.1 1129.4L727.6 1164.8L686.6 1164.8zM716.3 1071.1L736.8 1106.5L695.8 1106.5zM725.5 1110L746 1145.4L705 1145.4zM734.6 1139.8L755.1 1175.2L714.1 1175.2zM743.8 1094.4L764.3 1129.8L723.3 1129.8zM752.9 1135.9L773.4 1171.3L732.4 1171.3zM762.1 1161.8L782.6 1197.2L741.6 1197.2zM771.3 1148.9L791.8 1184.3L750.8 1184.3zM780.4 1129.4L800.9 1164.8L759.9 1164.8zM789.6 1112.6L810.1 1148L769.1 1148zM798.7 1124.3L819.2 1159.7L778.2 1159.7zM807.9 1208.5L828.4 1243.9L787.4 1243.9zM817.1 1148.9L837.6 1184.3L796.6 1184.3zM826.2 1135.9L846.7 1171.3L805.7 1171.3zM835.4 1139.8L855.9 1175.2L814.9 1175.2zM844.5 1155.4L865 1190.8L824 1190.8zM853.7 1094.4L874.2 1129.8L833.2 1129.8zM862.9 1117.8L883.4 1153.2L842.4 1153.2zM872 1123L892.5 1158.4L851.5 1158.4zM881.2 1120.4L901.7 1155.8L860.7 1155.8zM890.3 1125.5L910.8 1160.9L869.8 1160.9zM899.5 1248.7L920 1284.1L879 1284.1zM908.7 1148.9L929.2 1184.3L888.2 1184.3zM917.8 1161.8L938.3 1197.2L897.3 1197.2zM927 1138.5L947.5 1173.9L906.5 1173.9zM936.1 1132L956.6 1167.4L915.6 1167.4zM945.3 1316.1L965.8 1351.5L924.8 1351.5zM954.5 1135.9L975 1171.3L934 1171.3zM963.6 1148.9L984.1 1184.3L943.1 1184.3zM972.8 1123L993.3 1158.4L952.3 1158.4zM981.9 1142.4L1002.4 1177.8L961.4 1177.8zM991.1 900L1011.6 935.4L970.6 935.4zM1000.3 1117.8L1020.8 1153.2L979.8 1153.2zM1009.4 1135.9L1029.9 1171.3L988.9 1171.3zM1018.6 1123L1039.1 1158.4L998.1 1158.4zM1027.7 1129.4L1048.2 1164.8L1007.2 1164.8zM1036.9 900L1057.4 935.4L1016.4 935.4zM1046.1 1107.4L1066.6 1142.8L1025.6 1142.8zM1055.2 1116.5L1075.7 1151.9L1034.7 1151.9zM1064.4 1123L1084.9 1158.4L1043.9 1158.4zM1073.5 1129.4L1094 1164.8L1053 1164.8zM1082.7 1314.8L1103.2 1350.2L1062.2 1350.2zM1091.9 1112.6L1112.4 1148L1071.4 1148zM1101 1123L1121.5 1158.4L1080.5 1158.4zM1110.2 1110L1130.7 1145.4L1089.7 1145.4zM1119.3 1084.1L1139.8 1119.5L1098.8 1119.5zM1128.5 1294.1L1149 1329.5L1108 1329.5zM1137.7 1086.7L1158.2 1122.1L1117.2 1122.1zM1146.8 1120.4L1167.3 1155.8L1126.3 1155.8zM1156 1084.1L1176.5 1119.5L1135.5 1119.5zM1165.1 1082.8L1185.6 1118.2L1144.6 1118.2zM1174.3 734.1L1194.8 769.5L1153.8 769.5zM1183.5 1128.1L1204 1163.5L1163 1163.5zM1192.6 1088L1213.1 1123.4L1172.1 1123.4zM1201.8 1103.5L1222.3 1138.9L1181.3 1138.9zM1210.9 1060.7L1231.4 1096.1L1190.4 1096.1zM1220.1 1257.8L1240.6 1293.2L1199.6 1293.2zM1229.3 1045.2L1249.8 1080.6L1208.8 1080.6zM1238.4 1029.6L1258.9 1065L1217.9 1065zM1247.6 1018L1268.1 1053.4L1227.1 1053.4zM1256.7 1016.7L1277.2 1052.1L1236.2 1052.1zM1265.9 1265.5L1286.4 1300.9L1245.4 1300.9zM1275.1 1053L1295.6 1088.4L1254.6 1088.4zM1284.2 1045.2L1304.7 1080.6L1263.7 1080.6zM1293.4 1021.8L1313.9 1057.2L1272.9 1057.2zM1302.5 1021.8L1323 1057.2L1282 1057.2zM1311.7 778.1L1332.2 813.5L1291.2 813.5zM1320.9 1008.9L1341.4 1044.3L1300.4 1044.3zM1330 1008.9L1350.5 1044.3L1309.5 1044.3zM1339.2 1032.2L1359.7 1067.6L1318.7 1067.6zM1348.3 942.8L1368.8 978.2L1327.8 978.2zM1357.5 1246.1L1378 1281.5L1337 1281.5zM1366.7 1010.2L1387.2 1045.6L1346.2 1045.6zM1375.8 950.5L1396.3 985.9L1355.3 985.9zM1385 985.5L1405.5 1020.9L1364.5 1020.9zM1394.1 950.5L1414.6 985.9L1373.6 985.9zM1403.3 1186.5L1423.8 1221.9L1382.8 1221.9zM1412.5 949.3L1433 984.7L1392 984.7z" fill="none" stroke="#EDB120" stroke-width="5.6" stroke-linejoin="miter" stroke-miterlimit="10"/>
<g font-family="'Liberation Serif','Noto Serif CJK SC',serif" fill="#262626" stroke="#fff" stroke-width="0.9">
<text x="212.5" y="1407" font-size="52" text-anchor="middle" >0</text>
<text x="383.2 408.2" y="1407" font-size="52" text-anchor="middle" >20</text>
<text x="566.4 591.4" y="1407" font-size="52" text-anchor="middle" >40</text>
<text x="749.6 774.6" y="1407" font-size="52" text-anchor="middle" >60</text>
<text x="932.8 957.8" y="1407" font-size="52" text-anchor="middle" >80</text>
<text x="1103.5 1128.5 1153.5" y="1407" font-size="52" text-anchor="middle" >100</text>
<text x="1286.7 1311.7 1336.7" y="1407" font-size="52" text-anchor="middle" >120</text>
<text x="1469.9 1494.9 1519.9" y="1407" font-size="52" text-anchor="middle" >140</text>
<text x="1653.1 1678.1 1703.1" y="1407" font-size="52" text-anchor="middle" >160</text>
<text x="1836.3 1861.3 1886.3" y="1407" font-size="52" text-anchor="middle" >180</text>
<text x="182.5" y="1357.5" font-size="52" text-anchor="middle" >0</text>
<text x="107.5 127.5 157.5 182.5" y="1227.9" font-size="52" text-anchor="middle" >0.01</text>
<text x="107.5 127.5 157.5 182.5" y="1098.2" font-size="52" text-anchor="middle" >0.02</text>
<text x="107.5 127.5 157.5 182.5" y="968.6" font-size="52" text-anchor="middle" >0.03</text>
<text x="107.5 127.5 157.5 182.5" y="839" font-size="52" text-anchor="middle" >0.04</text>
<text x="107.5 127.5 157.5 182.5" y="709.4" font-size="52" text-anchor="middle" >0.05</text>
<text x="107.5 127.5 157.5 182.5" y="579.7" font-size="52" text-anchor="middle" >0.06</text>
<text x="107.5 127.5 157.5 182.5" y="450.1" font-size="52" text-anchor="middle" >0.07</text>
<text x="107.5 127.5 157.5 182.5" y="320.5" font-size="52" text-anchor="middle" >0.08</text>
<text x="107.5 127.5 157.5 182.5" y="190.8" font-size="52" text-anchor="middle" >0.09</text>
<text x="132.5 152.5 182.5" y="61.2" font-size="52" text-anchor="middle" >0.1</text>
<text x="981.4 1009 1036.6 1064.2 1091.8" y="1483" font-size="58" text-anchor="middle" >Cycle</text>
<g transform="rotate(-90 49.5 692.2)">
<text x="-126.1 -98.5 -70.9 -43.3 -15.7 11.9 39.5 67.1 94.7 122.3 149.9 177.5 205.1 232.7" y="711.2" font-size="58" text-anchor="middle" >Relative Error</text>
</g>
</g>
<rect x="259.6" y="90.6" width="345.4" height="215.1" fill="#fff" stroke="#262626" stroke-width="5.4"/>
<path d="M276.6 131H454.1" stroke="#0072BD" stroke-width="5.2"/>
<path d="M276.6 197.8H454.1" stroke="#D95319" stroke-width="5.2"/>
<path d="M276.6 265.3H454.1" stroke="#EDB120" stroke-width="5.2"/>
<path d="M347 131a17.7 17.7 0 1 0 35.4 0a17.7 17.7 0 1 0 -35.4 0" fill="none" stroke="#0072BD" stroke-width="5.6"/>
<path d="M350.8 183.5h28.6v28.6h-28.6z" fill="none" stroke="#D95319" stroke-width="5.6" stroke-linejoin="miter"/>
<path d="M364.7 240.9L385.3 277.5L344.1 277.5z" fill="none" stroke="#EDB120" stroke-width="5.6" stroke-linejoin="miter" stroke-miterlimit="10"/>
<g font-family="'Liberation Serif','Noto Serif CJK SC',serif" fill="#262626" stroke="#fff" stroke-width="0.8"><text x="479.5 503.5 527.5 551.5 575.5" y="149" font-size="47" text-anchor="middle" >data1</text></g>
<g font-family="'Liberation Serif','Noto Serif CJK SC',serif" fill="#262626" stroke="#fff" stroke-width="0.8"><text x="479.5 503.5 527.5 551.5 575.5" y="215.8" font-size="47" text-anchor="middle" >data2</text></g>
<g font-family="'Liberation Serif','Noto Serif CJK SC',serif" fill="#262626" stroke="#fff" stroke-width="0.8"><text x="479.5 503.5 527.5 551.5 575.5" y="283.3" font-size="47" text-anchor="middle" >data3</text></g>
<text y="1606" font-family="'Liberation Serif','Noto Serif CJK SC',serif" text-anchor="middle" fill="#000"><tspan x="930.3" font-size="86" stroke="#fff" stroke-width="2">(</tspan><tspan x="969.4" font-size="89" font-weight="bold" stroke="#fff" stroke-width="2.2">b</tspan><tspan x="1008.8" font-size="86" stroke="#fff" stroke-width="2">)</tspan></text>
</svg></body></html>
